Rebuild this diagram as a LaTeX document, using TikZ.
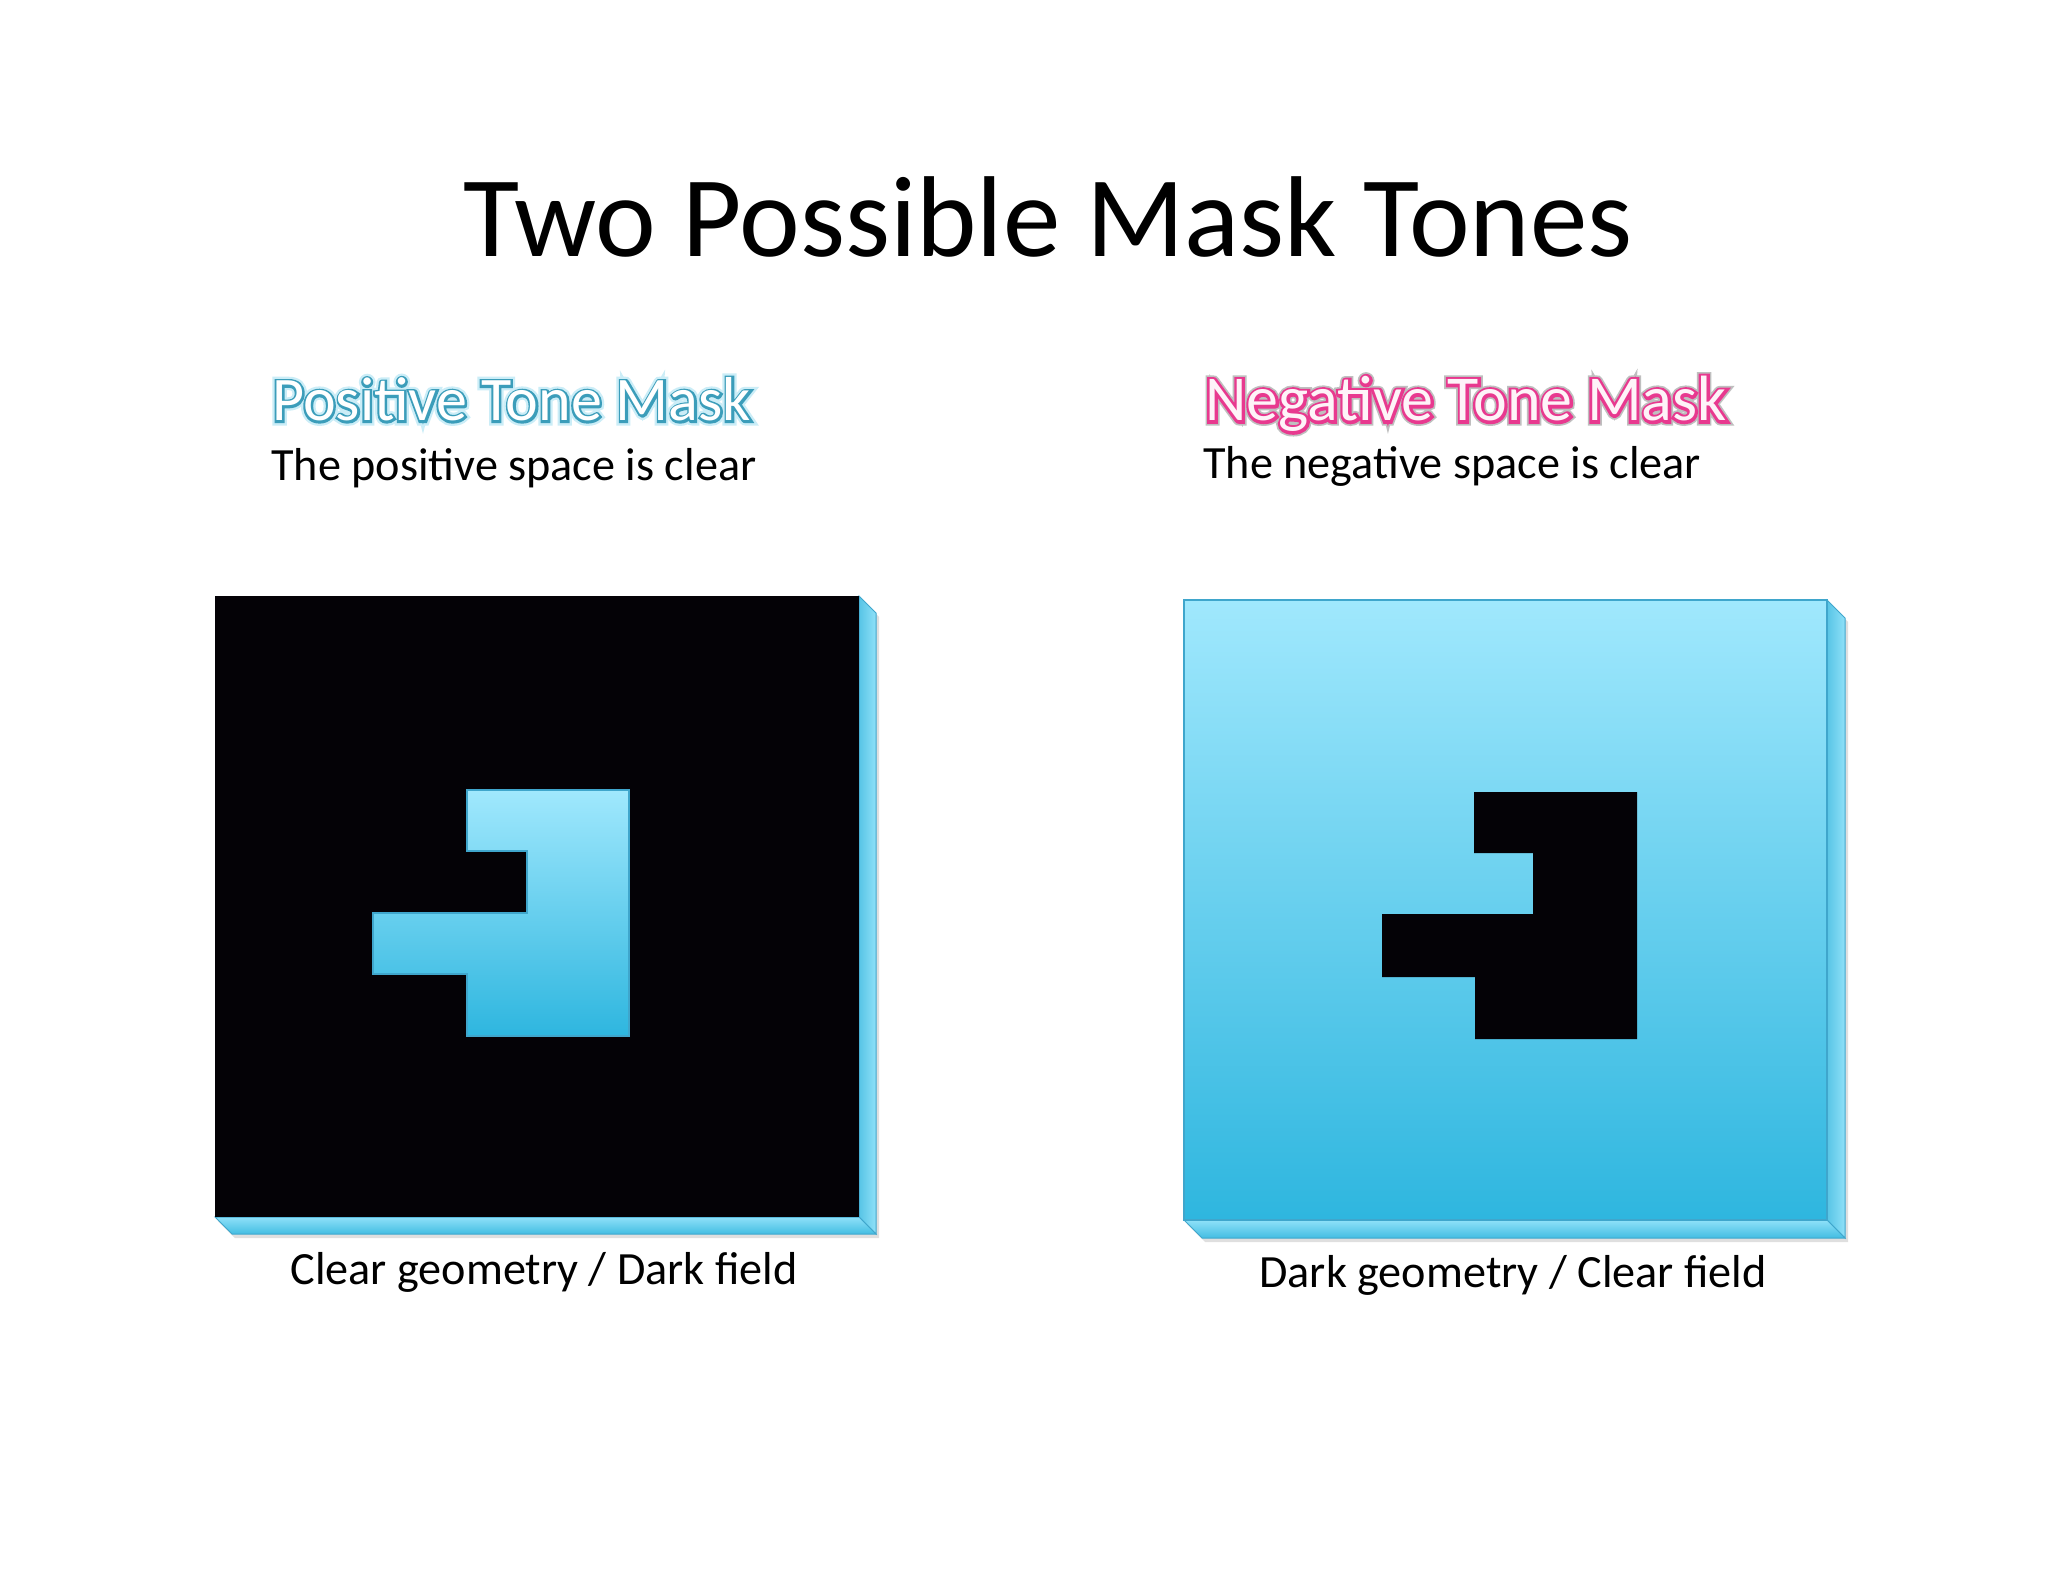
\documentclass[tikz,border=0pt]{standalone}
\usepackage{fontspec}
\setmainfont{Carlito}
\usepackage{tikz}
\usetikzlibrary{positioning}
\usetikzlibrary{shadows}
\usepackage{xcolor}
\definecolor{maskcyan}{HTML}{2EB6DF}
\definecolor{masklight}{HTML}{A0E8FD}
\definecolor{maskedge}{HTML}{3FA6CC}
\definecolor{maskpink}{HTML}{E8398F}
\definecolor{maskfield}{HTML}{040206}
% glow colour, stroke colour, fill colour, stroke width, text
\newcommand\outlinetext[5]{%
  \makebox[0pt][l]{\color{#1}\special{pdf:literal direct 2 Tr 4.5 w}#5\special{pdf:literal direct 0 Tr}}%
  \makebox[0pt][l]{\color{#2}\special{pdf:literal direct 2 Tr #4 w}#5\special{pdf:literal direct 0 Tr}}%
  {\color{#3}#5}}

\begin{document}
\begin{tikzpicture}[x=0.5pt, y=-0.5pt,
    title/.style={font=\fontsize{57.5}{60}\selectfont, inner sep=0},
    heading/.style={font=\fontsize{31}{34}\selectfont, inner sep=0},
    label/.style={font=\fontsize{23.1}{26}\selectfont, inner sep=0},
    facecyan/.style={top color=masklight, bottom color=maskcyan, draw=maskedge, line width=0.6pt},
    sidecyan/.style={left color=maskcyan!80, right color=masklight!85!maskcyan, draw=maskedge, line width=0.5pt},
    basecyan/.style={top color=masklight!85!maskcyan, bottom color=maskcyan!90, draw=maskedge, line width=0.5pt},
    boxshadow/.style={fill=white, drop shadow={shadow xshift=1.5pt, shadow yshift=-2pt, opacity=0.25}}]
  \fill[white] (0,0) rectangle (2048,1582);

  \node[title, anchor=base] (title) at (1048,257) {Two Possible Mask Tones};

  % positive tone mask
  \path[boxshadow] (215,596) -- (859,596) -- (876,613) -- (876,1234) -- (232,1234) -- (215,1217) -- cycle;
  \draw[sidecyan] (859,596) -- (876,613) -- (876,1234) -- (859,1217) -- cycle;
  \draw[basecyan] (215,1217) -- (232,1234) -- (876,1234) -- (859,1217) -- cycle;
  \fill[maskfield] (215,596) rectangle (859,1217);
  \draw[facecyan] (467,790) -- (629,790) -- (629,1036) -- (467,1036) -- (467,974) -- (373,974)
    -- (373,913) -- (527,913) -- (527,851) -- (467,851) -- cycle;

  % negative tone mask
  \path[boxshadow] (1184,600) -- (1827,600) -- (1845,618) -- (1845,1238) -- (1202,1238) -- (1184,1220) -- cycle;
  \draw[sidecyan] (1827,600) -- (1845,618) -- (1845,1238) -- (1827,1220) -- cycle;
  \draw[basecyan] (1184,1220) -- (1202,1238) -- (1845,1238) -- (1827,1220) -- cycle;
  \draw[facecyan] (1184,600) rectangle (1827,1220);
  \fill[maskfield] (1474,792) -- (1637,792) -- (1637,1039) -- (1475,1039) -- (1475,977) -- (1382,977)
    -- (1382,914) -- (1533,914) -- (1533,853) -- (1474,853) -- cycle;

  \node[label, anchor=base west] (posSub) at (271,481) {The positive space is clear};
  \node[label, anchor=base west] (negSub) at (1203,479) {The negative space is clear};
  \node[label, anchor=base] (posCap) at (544,1284) {Clear geometry / Dark field};
  \node[label, anchor=base] (negCap) at (1513,1287) {Dark geometry / Clear field};

  \node[heading, anchor=base west] (posHead) at (272,421)
    {\outlinetext{maskcyan!25}{maskcyan!80!black!90}{white}{2.2}{Positive Tone Mask}};
  \node[heading, anchor=base west, font=\fontsize{32}{34}\selectfont] (negHead) at (1205,421)
    {\outlinetext{black!25}{maskpink}{maskpink!6}{2.8}{Negative Tone Mask}};
\end{tikzpicture}
\end{document}
